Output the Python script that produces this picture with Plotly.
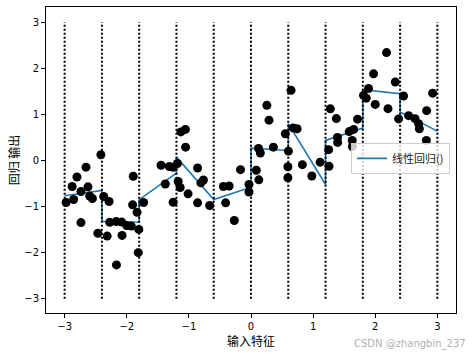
import plotly.graph_objects as go

# ---- data ----
x_points = [-2.976, -2.879, -2.855, -2.802, -2.737, -2.737, -2.656, -2.624, -2.597, -2.553,
            -2.465, -2.416, -2.371, -2.315, -2.285, -2.274, -2.169, -2.166, -2.081, -2.076,
            -2.000, -1.927, -1.895, -1.906, -1.834, -1.806, -1.815, -1.729, -1.448, -1.379,
            -1.315, -1.250, -1.253, -1.185, -1.173, -1.140, -1.129, -1.056, -1.053, -1.013,
            -0.860, -0.860, -0.806, -0.766, -0.665, -0.444, -0.408, -0.352, -0.269, -0.169,
            -0.032, -0.032, 0.085, 0.126, 0.121, 0.150, 0.255, 0.290, 0.360, 0.553,
            0.594, 0.594, 0.602, 0.645, 0.677, 0.742, 0.827, 0.979, 1.113, 1.250,
            1.255, 1.277, 1.374, 1.392, 1.395, 1.581, 1.653, 1.629, 1.632, 1.715,
            1.811, 1.855, 1.892, 1.973, 2.000, 2.182, 2.205, 2.323, 2.376, 2.456,
            2.537, 2.640, 2.698, 2.710, 2.827, 2.823, 2.924]
y_points = [-0.913, -0.565, -0.848, -0.359, -0.674, -1.348, -0.146, -0.572, -0.772, -0.826,
            -1.580, 0.124, -0.783, -1.641, -0.891, -1.343, -1.326, -2.267, -1.337, -1.626,
            -1.413, -1.424, -0.343, -0.963, -1.126, -1.496, -2.000, -0.913, -0.104, -0.511,
            -0.130, -0.148, -0.907, -0.065, -0.457, -0.587, 0.620, 0.674, 0.289, -0.724,
            -0.163, -0.920, -0.485, -0.424, -0.978, -0.565, -0.920, -0.554, -1.304, -0.200,
            -0.522, -0.685, -0.213, -0.420, 0.261, 0.163, 1.196, 0.874, 0.289, 0.580,
            -0.137, -0.376, 0.202, 1.522, 0.707, 0.689, -0.091, -0.337, -0.037, 0.235,
            -0.126, 1.120, 0.909, 0.500, 0.391, 0.626, 0.674, 0.435, 0.304, 0.896,
            1.413, 1.352, 1.561, 1.880, 1.217, 2.341, 1.124, 1.702, 0.902, 1.398,
            0.972, 0.907, 0.798, 0.689, 1.080, 0.435, 1.461]

bin_edges = [-3.0, -2.4, -1.8, -1.2, -0.6, 0.0, 0.6, 1.2, 1.8, 2.4, 3.0]
# regression prediction at the left and right edge of each bin
pred_left = [-0.767, -1.320, -0.848, 0.072, -0.848, 0.267, 0.798, 0.435, 1.537, 1.050]
pred_right = [-0.652, -1.341, -0.276, -0.848, -0.580, 0.217, -0.522, 0.702, 1.450, 0.637]

vline_low, vline_high = -3, 3
tick_vals = [-3, -2, -1, 0, 1, 2, 3]
tick_text = ["\u22123", "\u22122", "\u22121", "0", "1", "2", "3"]

legend_label = "线性回归()"
x_title = "输入特征"
y_title = "回归\u00a0输出"
watermark = "CSDN @zhangbin_237"

# ---- build traces ----
line_x, line_y = [], []
for i in range(len(pred_left)):
    line_x += [bin_edges[i], bin_edges[i + 1]]
    line_y += [pred_left[i], pred_right[i]]

vx, vy = [], []
for e in bin_edges:
    vx += [e, e, None]
    vy += [vline_low, vline_high, None]

fig = go.Figure()
fig.add_trace(go.Scatter(x=line_x, y=line_y, mode="lines", name=legend_label,
                         line=dict(color="#1f77b4", width=1.6)))
fig.add_trace(go.Scatter(x=vx, y=vy, mode="lines", showlegend=False,
                         line=dict(color="black", width=2, dash="2px,2px")))
fig.add_trace(go.Scatter(x=x_points, y=y_points, mode="markers", showlegend=False,
                         marker=dict(color="black", size=9)))

font_main = "DejaVu Sans, Noto Sans CJK SC, sans-serif"
fig.update_layout(
    width=474, height=354,
    margin=dict(l=46, r=18, t=7, b=41),
    paper_bgcolor="white", plot_bgcolor="white",
    font=dict(family=font_main, size=10, color="black"),
    showlegend=True,
    legend=dict(x=0.744, y=0.556, xanchor="left", yanchor="top",
                bgcolor="rgba(255,255,255,0.8)", bordercolor="#cccccc", borderwidth=1,
                font=dict(family="Noto Sans CJK SC, sans-serif", size=11, color="#222"),
                itemwidth=30, tracegroupgap=0),
    xaxis=dict(range=[-3.3, 3.3], tickvals=tick_vals, ticktext=tick_text,
               showgrid=False, zeroline=False, showline=True, mirror=True,
               linecolor="black", linewidth=1, ticks="outside", ticklen=4,
               tickcolor="black",
               title=dict(text=x_title, standoff=4,
                          font=dict(family="Noto Sans CJK SC, sans-serif", size=12))),
    yaxis=dict(range=[-3.31, 3.33], tickvals=tick_vals, ticktext=tick_text,
               showgrid=False, zeroline=False, showline=True, mirror=True,
               linecolor="black", linewidth=1, ticks="outside", ticklen=4,
               tickcolor="black",
               title=dict(text=y_title, standoff=2,
                          font=dict(family="Noto Sans CJK SC, sans-serif", size=12))),
    annotations=[dict(text=watermark, xref="paper", yref="paper", x=1.03, y=-0.074,
                      xanchor="right", yanchor="top", showarrow=False,
                      font=dict(family="DejaVu Sans, sans-serif", size=10, color="#b0b0b0"))],
)

fig.write_html("out.html")
